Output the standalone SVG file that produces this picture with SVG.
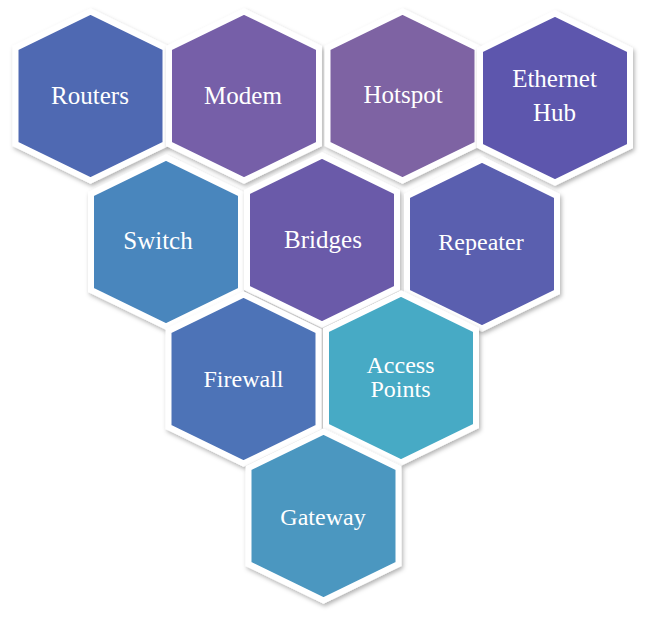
<svg xmlns="http://www.w3.org/2000/svg" xmlns:xlink="http://www.w3.org/1999/xlink" width="660" height="622" viewBox="0 0 660 622">
<style>
  .hex { stroke: #ffffff; stroke-width: 6; stroke-linejoin: miter; filter: url(#sh); }
  .lbl { font-family: "Liberation Serif", "Times New Roman", serif; font-size: 24px; fill: #ffffff; text-anchor: middle; }
  .big { font-size: 25px; }
</style>
<defs>
  <filter id="sh" x="-20%" y="-20%" width="140%" height="140%">
    <feDropShadow dx="1.5" dy="2.5" stdDeviation="2" flood-color="#000000" flood-opacity="0.3"/>
  </filter>
  <polygon id="hx" points="0,-84.5 75,-48 75,48 0,84.5 -75,48 -75,-48"/>
</defs>
<rect width="660" height="622" fill="#ffffff"/>
<g id="routers">
  <use xlink:href="#hx" href="#hx" class="hex" x="90.5" y="96" fill="#4f69b2"/>
  <text class="lbl big" x="90" y="104">Routers</text>
</g>
<g id="modem">
  <use xlink:href="#hx" href="#hx" class="hex" x="244" y="96" fill="#765fa8"/>
  <text class="lbl big" x="243" y="104">Modem</text>
</g>
<g id="hotspot">
  <use xlink:href="#hx" href="#hx" class="hex" x="402.5" y="96" fill="#7e63a3"/>
  <text class="lbl big" x="403" y="103">Hotspot</text>
</g>
<g id="ethernet-hub">
  <use xlink:href="#hx" href="#hx" class="hex" x="555" y="98" fill="#5d57ad"/>
  <text class="lbl big" x="554.5" y="86.5">Ethernet</text>
  <text class="lbl big" x="554.5" y="120.5">Hub</text>
</g>
<g id="switch">
  <use xlink:href="#hx" href="#hx" class="hex" x="166" y="242" fill="#4a86bd"/>
  <text class="lbl big" x="158" y="249">Switch</text>
</g>
<g id="bridges">
  <use xlink:href="#hx" href="#hx" class="hex" x="322" y="240" fill="#6a5aa9"/>
  <text class="lbl big" x="323" y="248">Bridges</text>
</g>
<g id="repeater">
  <use xlink:href="#hx" href="#hx" class="hex" x="482" y="244" fill="#5a5faf"/>
  <text class="lbl" x="481" y="250">Repeater</text>
</g>
<g id="firewall">
  <use xlink:href="#hx" href="#hx" class="hex" x="243.5" y="379" fill="#4d73b7"/>
  <text class="lbl" x="243.5" y="387">Firewall</text>
</g>
<g id="access-points">
  <use xlink:href="#hx" href="#hx" class="hex" x="401" y="378" fill="#47aac5"/>
  <text class="lbl" x="400.5" y="373">Access</text>
  <text class="lbl" x="400.5" y="397">Points</text>
</g>
<g id="gateway">
  <use xlink:href="#hx" href="#hx" class="hex" x="323.5" y="516" fill="#4b97c0"/>
  <text class="lbl" x="323" y="525">Gateway</text>
</g>
<g id="connectors"></g>
</svg>
